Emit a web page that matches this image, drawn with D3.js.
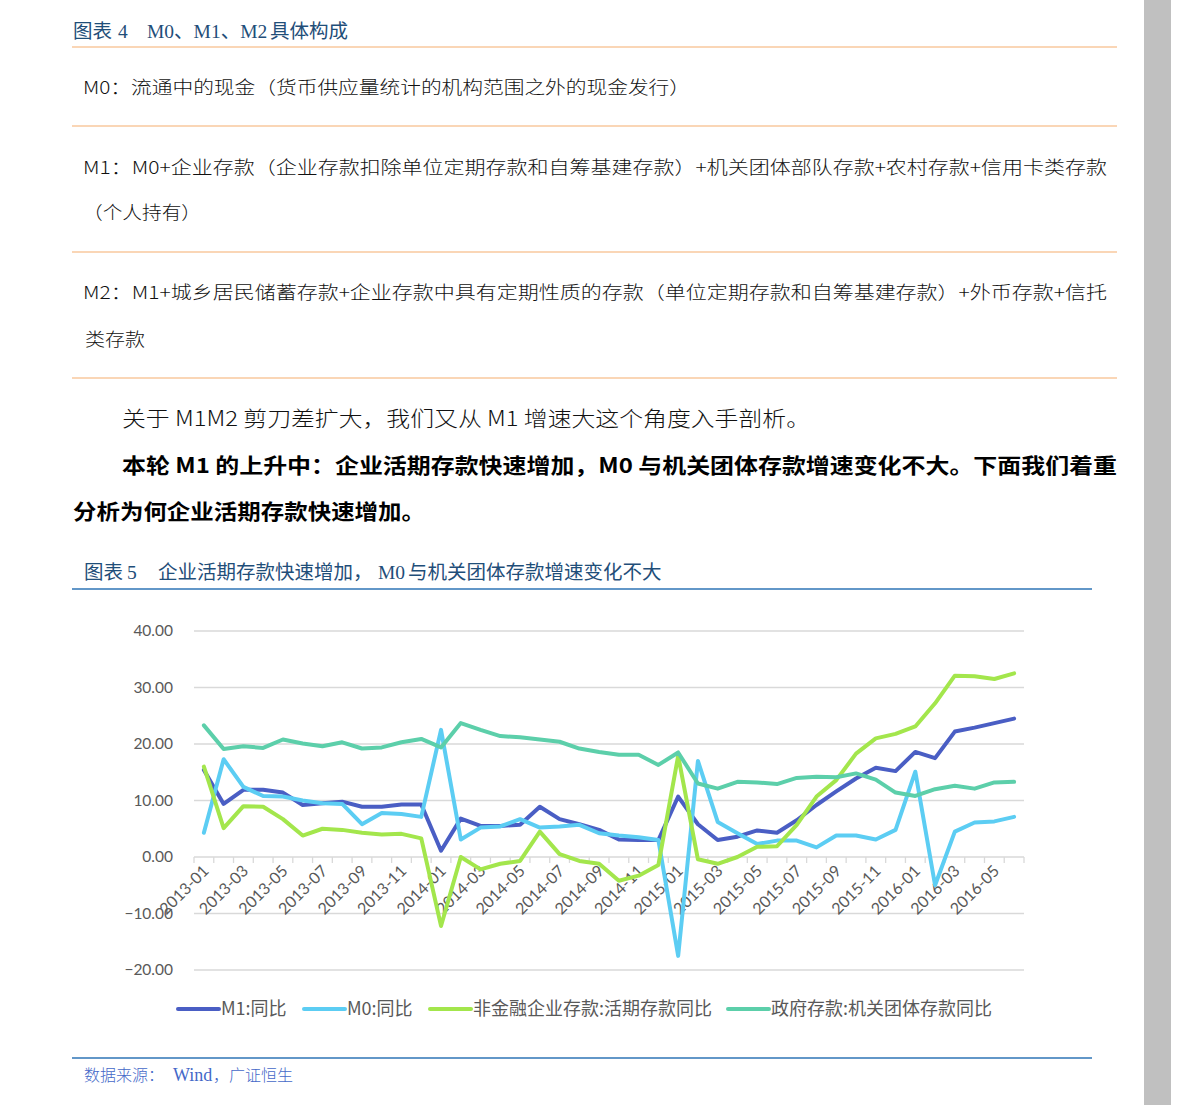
<!DOCTYPE html>
<html>
<head>
<meta charset="utf-8">
<script src="https://cdn.jsdelivr.net/npm/d3@7"></script>
<style>
  body { margin: 0; background: #fff; }
  svg { display: block; }
</style>
</head>
<body>
<div id="page"></div>
<script>
// categories (monthly, 2013-01 .. 2016-06)
const months = ["2013-01","2013-02","2013-03","2013-04","2013-05","2013-06","2013-07","2013-08","2013-09","2013-10","2013-11","2013-12",
  "2014-01","2014-02","2014-03","2014-04","2014-05","2014-06","2014-07","2014-08","2014-09","2014-10","2014-11","2014-12",
  "2015-01","2015-02","2015-03","2015-04","2015-05","2015-06","2015-07","2015-08","2015-09","2015-10","2015-11","2015-12",
  "2016-01","2016-02","2016-03","2016-04","2016-05","2016-06"];
const tickLabels = ["2013-01","2013-03","2013-05","2013-07","2013-09","2013-11","2014-01","2014-03","2014-05","2014-07","2014-09","2014-11",
  "2015-01","2015-03","2015-05","2015-07","2015-09","2015-11","2016-01","2016-03","2016-05"];
const yTicks = [-20, -10, 0, 10, 20, 30, 40];

// series values (%)
const m1 = [15.4,9.4,11.9,11.9,11.4,9.2,9.5,9.8,8.9,8.9,9.3,9.3,
  1.1,6.8,5.5,5.5,5.7,8.9,6.7,5.8,4.8,3.1,3.0,3.0,
  10.7,5.8,3.0,3.6,4.7,4.3,6.5,9.2,11.6,13.9,15.8,15.2,
  18.6,17.5,22.2,22.9,23.7,24.5];
const m0 = [4.3,17.3,12.4,10.8,10.7,10.0,9.5,9.4,5.8,7.8,7.6,7.1,
  22.5,3.1,5.2,5.4,6.7,5.2,5.4,5.7,4.2,3.8,3.5,3.0,
  -17.5,17.0,6.2,4.2,2.3,2.9,2.9,1.7,3.8,3.8,3.1,4.8,
  15.1,-5.0,4.5,6.1,6.3,7.1];
const corpDemand = [16.0,5.1,9.0,8.9,6.7,3.8,5.0,4.8,4.3,4.0,4.1,3.3,
  -12.2,0.0,-2.2,-1.2,-0.7,4.5,0.5,-0.7,-1.2,-4.2,-3.3,-1.4,
  17.9,-0.4,-1.2,0.0,1.8,1.9,5.7,10.7,13.6,18.3,21.0,21.8,
  23.1,27.2,32.1,32.0,31.5,32.5];
const govDeposit = [23.3,19.1,19.6,19.3,20.8,20.1,19.6,20.3,19.2,19.4,20.3,20.9,
  19.4,23.7,22.5,21.4,21.2,20.8,20.4,19.2,18.6,18.1,18.1,16.3,
  18.5,13.0,12.1,13.3,13.2,12.9,14.0,14.2,14.1,14.8,13.7,11.4,
  10.8,12.0,12.6,12.1,13.2,13.3];

const seriesNames = ["M1:同比", "M0:同比", "非金融企业存款:活期存款同比", "政府存款:机关团体存款同比"];
const seriesColors = ["#4a5ec4", "#5ccdf3", "#a3e64c", "#5ccfaa"];
const seriesData = [m1, m0, corpDemand, govDeposit];

const W = 1191, H = 1105;
const svg = d3.select("#page").append("svg")
  .attr("width", W).attr("height", H);

const cjk = "'Noto Sans CJK SC', sans-serif";
const serif = "'Liberation Serif', 'Noto Sans CJK SC', serif";

// right grey bar
svg.append("rect").attr("x", 1144).attr("y", 0).attr("width", 27).attr("height", H).attr("fill", "#c0c0c0");

// ---- figure 4 header ----
const t4 = svg.append("text").attr("x", 73).attr("y", 38).attr("fill", "#1f4e79")
  .style("font-size", "19.5px").style("font-family", cjk);
t4.append("tspan").text("图表");
t4.append("tspan").attr("x", 118).style("font-family", serif).text("4");
t4.append("tspan").attr("x", 147).style("font-family", serif).text("M0、M1、M2");
t4.append("tspan").attr("x", 270).text("具体构成");

// orange rules of the table
[47, 126, 252, 378].forEach(y => {
  svg.append("line").attr("x1", 72).attr("x2", 1117).attr("y1", y).attr("y2", y)
    .attr("stroke", "#f9c99e").attr("stroke-width", 1.5);
});

const rows = [
  { x: 83, y: 94, w: 607, t: "M0：流通中的现金（货币供应量统计的机构范围之外的现金发行）" },
  { x: 83, y: 174, w: 1024, t: "M1：M0+企业存款（企业存款扣除单位定期存款和自筹基建存款）+机关团体部队存款+农村存款+信用卡类存款" },
  { x: 83, y: 219, w: 118, t: "（个人持有）" },
  { x: 83, y: 299, w: 1024, t: "M2：M1+城乡居民储蓄存款+企业存款中具有定期性质的存款（单位定期存款和自筹基建存款）+外币存款+信托" },
  { x: 85, y: 346, w: 60, t: "类存款" }
];
rows.forEach(r => {
  svg.append("text").attr("x", r.x).attr("y", r.y)
    .attr("textLength", r.w).attr("lengthAdjust", "spacingAndGlyphs")
    .style("font-size", "18px").style("font-family", cjk).style("font-weight", 300)
    .attr("fill", "#111").text(r.t);
});

// ---- body paragraphs ----
svg.append("text").attr("x", 122).attr("y", 426)
  .attr("textLength", 688).attr("lengthAdjust", "spacingAndGlyphs")
  .style("font-size", "21px").style("font-family", cjk).style("font-weight", 300)
  .attr("fill", "#111").text("关于 M1M2 剪刀差扩大，我们又从 M1 增速大这个角度入手剖析。");
svg.append("text").attr("x", 122).attr("y", 473)
  .attr("textLength", 995).attr("lengthAdjust", "spacingAndGlyphs")
  .style("font-size", "21px").style("font-family", cjk).style("font-weight", 700)
  .attr("fill", "#000").text("本轮 M1 的上升中：企业活期存款快速增加，M0 与机关团体存款增速变化不大。下面我们着重");
svg.append("text").attr("x", 73).attr("y", 519)
  .attr("textLength", 352).attr("lengthAdjust", "spacingAndGlyphs")
  .style("font-size", "21px").style("font-family", cjk).style("font-weight", 700)
  .attr("fill", "#000").text("分析为何企业活期存款快速增加。");

// ---- figure 5 header ----
const t5 = svg.append("text").attr("x", 84).attr("y", 579).attr("fill", "#1f4e79")
  .style("font-size", "19.5px").style("font-family", cjk);
t5.append("tspan").text("图表");
t5.append("tspan").attr("x", 127).style("font-family", serif).text("5");
t5.append("tspan").attr("x", 158).text("企业活期存款快速增加，");
t5.append("tspan").attr("x", 378).style("font-family", serif).text("M0");
t5.append("tspan").attr("x", 408).text("与机关团体存款增速变化不大");

svg.append("line").attr("x1", 72).attr("x2", 1092).attr("y1", 589).attr("y2", 589)
  .attr("stroke", "#2e75b6").attr("stroke-width", 1.5);
svg.append("line").attr("x1", 72).attr("x2", 1092).attr("y1", 1058).attr("y2", 1058)
  .attr("stroke", "#2e75b6").attr("stroke-width", 1.5);

// ---- chart ----
const x = d3.scaleBand().domain(months).range([194, 1024]).paddingInner(0).paddingOuter(0);
const y = d3.scaleLinear().domain([-20, 40]).range([970, 631]);
const cx = d => x(d) + x.bandwidth() / 2;
const latin = "Lato, 'Liberation Sans', sans-serif";

const chart = svg.append("g");

// gridlines
chart.append("g").selectAll("line").data(yTicks).join("line")
  .attr("x1", 194).attr("x2", 1024)
  .attr("y1", d => y(d)).attr("y2", d => y(d))
  .attr("stroke", "#d9d9d9").attr("stroke-width", 1.3);

// y labels
chart.append("g").selectAll("text").data(yTicks).join("text")
  .attr("x", 173).attr("y", d => y(d) + 5)
  .attr("text-anchor", "end")
  .style("font-size", "15.5px").style("font-family", latin)
  .attr("fill", "#595959")
  .text(d => d3.format(".2f")(d));

// category ticks on the zero axis
const bounds = months.map(m => x(m)).concat([1024]);
chart.append("g").selectAll("line").data(bounds).join("line")
  .attr("x1", d => d).attr("x2", d => d)
  .attr("y1", y(0)).attr("y2", y(0) + 6)
  .attr("stroke", "#d9d9d9").attr("stroke-width", 1.3);

// x labels, rotated
chart.append("g").selectAll("text").data(tickLabels).join("text")
  .attr("transform", d => `translate(${cx(d) + 6},${y(0) + 15}) rotate(-45)`)
  .attr("text-anchor", "end")
  .style("font-size", "16px").style("font-family", latin)
  .attr("fill", "#595959")
  .text(d => d);

// lines
const line = d3.line().x((d, i) => cx(months[i])).y(d => y(d));
chart.append("g").selectAll("path").data(seriesData).join("path")
  .attr("d", d => line(d))
  .attr("fill", "none")
  .attr("stroke", (d, i) => seriesColors[i])
  .attr("stroke-width", 4)
  .attr("stroke-linejoin", "round")
  .attr("stroke-linecap", "round");

// legend
const legendX = [178, 304, 430, 728];
const legend = svg.append("g");
seriesNames.forEach((name, i) => {
  legend.append("line")
    .attr("x1", legendX[i]).attr("x2", legendX[i] + 41)
    .attr("y1", 1009).attr("y2", 1009)
    .attr("stroke", seriesColors[i]).attr("stroke-width", 4).attr("stroke-linecap", "round");
  legend.append("text")
    .attr("x", legendX[i] + 43).attr("y", 1015)
    .style("font-size", "18px").style("font-family", cjk)
    .attr("fill", "#595959")
    .text(name);
});

// source
const src = svg.append("text").attr("x", 84).attr("y", 1081)
  .style("font-size", "16px").style("font-family", cjk).style("font-weight", 300)
  .attr("fill", "#4468c8");
src.append("tspan").text("数据来源：");
src.append("tspan").attr("x", 173).style("font-family", serif).style("font-size", "18px").text("Wind");
src.append("tspan").attr("x", 213).text("，广证恒生");
</script>
</body>
</html>
